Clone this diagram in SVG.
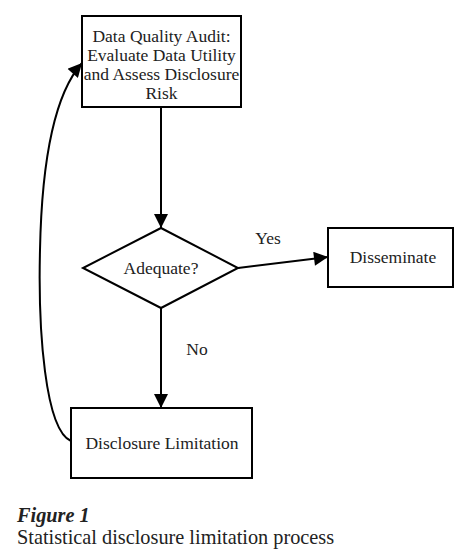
<svg xmlns="http://www.w3.org/2000/svg" width="474" height="550" viewBox="0 0 474 550">
<defs>
<marker id="ahb" viewBox="0 0 10 10" refX="10" refY="5" markerWidth="16" markerHeight="14" markerUnits="userSpaceOnUse" orient="auto">
<path d="M0,0 L10,5 L0,10 Z" fill="#000"/>
</marker>
</defs>
<style>
.box{fill:#fff;stroke:#000;stroke-width:2}
.t{font-family:"Liberation Serif",serif;font-size:17.5px;fill:#222;text-anchor:middle}
.c{fill:none;stroke:#000;stroke-width:2}
.cap{font-family:"Liberation Serif",serif;font-size:20.3px;fill:#222}
</style>
<rect width="474" height="550" fill="#fff"/>
<g id="connectors">
<path class="c" d="M161,107 L161,228" marker-end="url(#ahb)"/>
<path class="c" d="M238,268 L328,257" marker-end="url(#ahb)"/>
<path class="c" d="M161,308 L161,408" marker-end="url(#ahb)"/>
<path class="c" d="M71,441 C45,430 38,330 40,250 C42,150 58,90 82,63" marker-end="url(#ahb)"/>
<text class="t" x="268" y="244">Yes</text>
<text class="t" x="197" y="355">No</text>
</g>
<g id="audit">
<rect class="box" x="82" y="16" width="159" height="91"/>
<text class="t" x="161.5" y="42">Data Quality Audit:</text>
<text class="t" x="161.5" y="61">Evaluate Data Utility</text>
<text class="t" x="161.5" y="80">and Assess Disclosure</text>
<text class="t" x="161.5" y="99">Risk</text>
</g>
<g id="adequate">
<path class="box" d="M161,228 L238,268 L161,308 L83,268 Z"/>
<text class="t" x="161" y="274">Adequate?</text>
</g>
<g id="disseminate">
<rect class="box" x="328" y="228" width="125" height="59"/>
<text class="t" x="393" y="263">Disseminate</text>
</g>
<g id="limitation">
<rect class="box" x="71" y="408" width="181" height="70"/>
<text class="t" x="162" y="449">Disclosure Limitation</text>
</g>
<g id="caption">
<text class="cap" x="17" y="522" font-size="19" font-weight="bold" font-style="italic">Figure 1</text>
<text class="cap" x="17" y="544">Statistical disclosure limitation process</text>
</g>
</svg>
